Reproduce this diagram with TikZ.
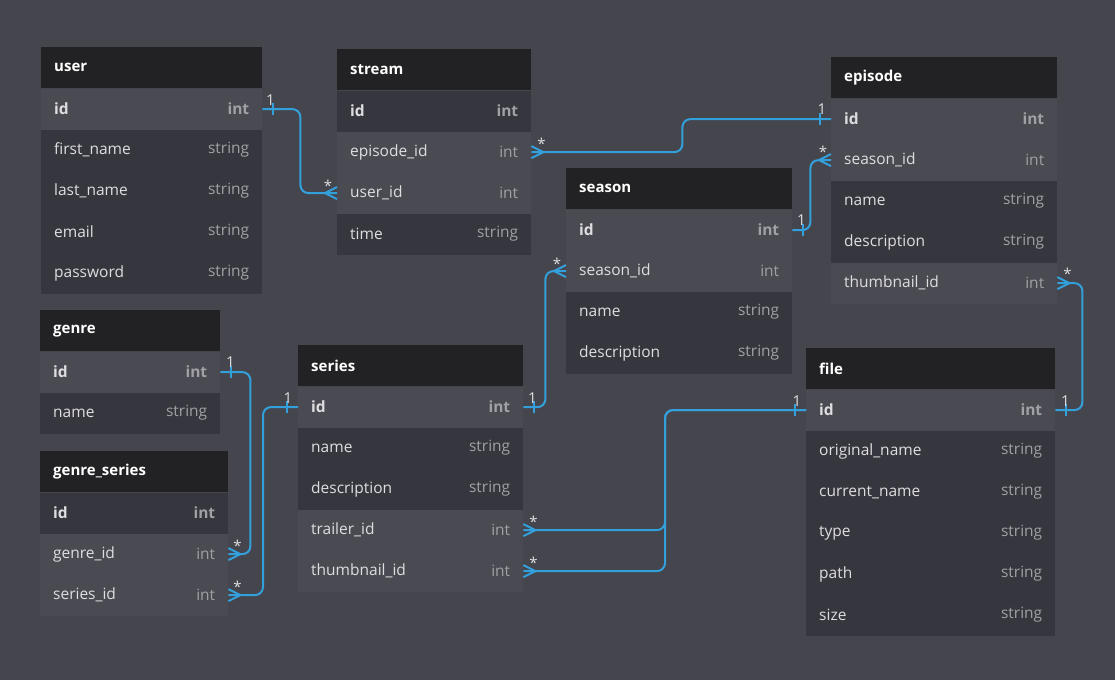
\documentclass[tikz,border=0pt]{standalone}
\usepackage{fontspec}
\setmainfont{Open Sans}
\usetikzlibrary{calc}
\definecolor{bg}{RGB}{68,69,77}
\definecolor{hdr}{RGB}{34,34,36}
\definecolor{rowd}{RGB}{54,54,62}
\definecolor{rowl}{RGB}{74,74,82}
\definecolor{txt}{RGB}{222,222,224}
\definecolor{typ}{RGB}{160,160,166}
\definecolor{rel}{RGB}{52,160,219}
\tikzset{
  hdr/.style={fill=hdr, minimum height=41pt, inner sep=0pt},
  row/.style={minimum height=41pt, inner sep=0pt},
  key/.style={row, fill=rowl}, fk/.style={row, fill=rowl},
  pl/.style={row, fill=rowd}, keyd/.style={row, fill=rowd},
  ttl/.style={text=white, font=\fontsize{15}{18}\selectfont\bfseries, anchor=west, inner sep=0pt},
  fld/.style={text=txt, font=\fontsize{15.5}{18}\selectfont, anchor=west, inner sep=0pt},
  tp/.style={text=typ, font=\fontsize{15.5}{18}\selectfont, anchor=east, inner sep=0pt},
  rel/.style={draw=rel, line width=2pt, rounded corners=8pt},
  card/.style={text=txt, font=\fontsize{15}{18}\selectfont, inner sep=0pt},
}
% #1 name, #2 x, #3 y, #4 width, #5 title, #6 rows field/type/style/font
\newcommand\ertable[6]{%
  \node[hdr, minimum width=#4pt, anchor=north west] (#1) at (#2,#3) {};
  \node[ttl] at ($(#1.west)+(13,0)$) {#5};
  \foreach \f/\t/\s/\b [count=\i from 0] in {#6} {
    \node[\s, minimum width=#4pt, anchor=north west] (#1-\i) at ($(#1.south west)+(0,41*\i)$) {};
    \node[fld] at ($(#1-\i.west)+(13,0)$) {\b\f};
    \node[tp] at ($(#1-\i.east)+(-13,0)$) {\b\t};
  }
}
% crow's foot at a table edge, #2 = +1 when line comes from the right, -1 from the left
\newcommand\many[2]{%
  \draw[draw=rel, line width=2pt] ($(#1)+(#2*12,0)$) -- ($(#1)+(0,-6)$)
    ($(#1)+(#2*12,0)$) -- ($(#1)+(0,6)$);}
\newcommand\one[2]{%
  \draw[draw=rel, line width=2pt] ($(#1)+(#2*11,-6)$) -- ($(#1)+(#2*11,6)$);}
\begin{document}
\begin{tikzpicture}[x=1pt, y=-1pt]
\useasboundingbox[fill=bg] (0,0) rectangle (1115,680);

\ertable{user}{41}{47}{221}{user}{id/int/key/\bfseries, first\_name/string/pl/, last\_name/string/pl/, email/string/pl/, password/string/pl/}
\ertable{stream}{337}{49}{194}{stream}{id/int/keyd/\bfseries, episode\_id/int/fk/, user\_id/int/fk/, time/string/pl/}
\ertable{episode}{831}{57}{226}{episode}{id/int/key/\bfseries, season\_id/int/fk/, name/string/pl/, description/string/pl/, thumbnail\_id/int/fk/}
\ertable{season}{566}{168}{226}{season}{id/int/key/\bfseries, season\_id/int/fk/, name/string/pl/, description/string/pl/}
\ertable{genre}{40}{310}{180}{genre}{id/int/key/\bfseries, name/string/pl/}
\ertable{gs}{40}{451}{188}{genre\_series}{id/int/keyd/\bfseries, genre\_id/int/fk/, series\_id/int/fk/}
\ertable{series}{298}{345}{225}{series}{id/int/key/\bfseries, name/string/pl/, description/string/pl/, trailer\_id/int/fk/, thumbnail\_id/int/fk/}
\ertable{file}{806}{348}{249}{file}{id/int/key/\bfseries, original\_name/string/pl/, current\_name/string/pl/, type/string/pl/, path/string/pl/, size/string/pl/}

% relations
\draw[rel] (user-0.east) -- ++(38,0) |- (stream-2.west);
\one{user-0.east}{1}\many{stream-2.west}{-1}
\node[card] (c1a) at ($(user-0.east)+(8,-9)$) {1};
\node[card] (c1b) at ($(stream-2.west)+(-9,-7)$) {*};

\draw[rel] (stream-1.east) -- ++(151,0) |- (episode-0.west);
\many{stream-1.east}{1}\one{episode-0.west}{-1}
\node[card] (c2a) at ($(stream-1.east)+(10,-8)$) {*};
\node[card] (c2b) at ($(episode-0.west)+(-9,-10)$) {1};

\draw[rel] (season-0.east) -- ++(18,0) |- (episode-1.west);
\one{season-0.east}{1}\many{episode-1.west}{-1}
\node[card] (c3a) at ($(season-0.east)+(9,-10)$) {1};
\node[card] (c3b) at ($(episode-1.west)+(-8,-8)$) {*};

\draw[rel] (series-0.east) -- ++(22,0) |- (season-1.west);
\one{series-0.east}{1}\many{season-1.west}{-1}
\node[card] (c4a) at ($(series-0.east)+(9,-9)$) {1};
\node[card] (c4b) at ($(season-1.west)+(-9,-7)$) {*};

\draw[rel] (genre-0.east) -- ++(30,0) |- (gs-1.east);
\one{genre-0.east}{1}\many{gs-1.east}{1}
\node[card] (c5a) at ($(genre-0.east)+(10,-10)$) {1};
\node[card] (c5b) at ($(gs-1.east)+(9,-8)$) {*};

\draw[rel] (series-0.west) -- ++(-35,0) |- (gs-2.east);
\one{series-0.west}{-1}\many{gs-2.east}{1}
\node[card] (c6a) at ($(series-0.west)+(-10,-9)$) {1};
\node[card] (c6b) at ($(gs-2.east)+(9,-8)$) {*};

\draw[rel] (file-0.west) -- ++(-141,0) |- (series-3.east);
\draw[rel] (file-0.west) -- ++(-141,0) |- (series-4.east);
\one{file-0.west}{-1}\many{series-3.east}{1}\many{series-4.east}{1}
\node[card] (c7a) at ($(file-0.west)+(-9,-9)$) {1};
\node[card] (c7b) at ($(series-3.east)+(10,-8)$) {*};
\node[card] (c8b) at ($(series-4.east)+(10,-8)$) {*};

\draw[rel] (episode-4.east) -- ++(25,0) |- (file-0.east);
\many{episode-4.east}{1}\one{file-0.east}{1}
\node[card] (c9a) at ($(episode-4.east)+(10,-9)$) {*};
\node[card] (c9b) at ($(file-0.east)+(10,-9)$) {1};
\end{tikzpicture}
\end{document}
